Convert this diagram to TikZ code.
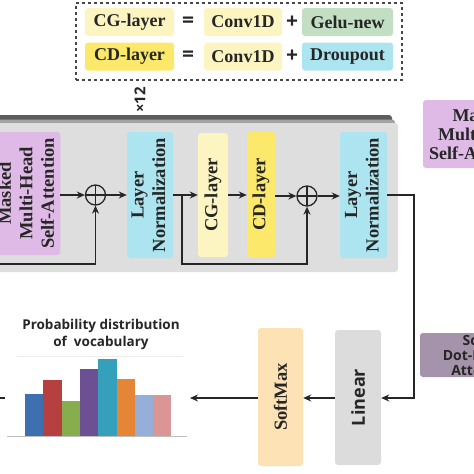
\documentclass[tikz,border=0pt]{standalone}
\usepackage{fontspec}
\setmainfont{Liberation Serif}
\newfontfamily\sansf{Open Sans}
\usetikzlibrary{arrows.meta}
\definecolor{ink}{HTML}{262626}
\definecolor{pyel}{HTML}{FCF5C2}
\definecolor{dyel}{HTML}{FCE86A}
\definecolor{pgreen}{HTML}{C3DFC3}
\definecolor{pcyan}{HTML}{ACE5EF}
\definecolor{ppurp}{HTML}{DFBAE6}
\definecolor{dpurp}{HTML}{A493AA}
\definecolor{panelc}{HTML}{DEDEDE}
\definecolor{midg}{HTML}{A2A2A2}
\definecolor{darkg}{HTML}{5E5E5E}
\definecolor{porange}{HTML}{FDE2B6}
\definecolor{linc}{HTML}{DCDCDC}
\definecolor{bA}{HTML}{3E6FB1}
\definecolor{bB}{HTML}{B6403F}
\definecolor{bC}{HTML}{87AD4C}
\definecolor{bD}{HTML}{6D4F93}
\definecolor{bE}{HTML}{34A0BC}
\definecolor{bF}{HTML}{E58636}
\definecolor{bG}{HTML}{95AFD8}
\definecolor{bH}{HTML}{D99695}
\newcommand{\vtext}[1]{\rotatebox{90}{\begin{tabular}{@{}c@{}}#1\end{tabular}}}
\tikzset{
  box/.style={rounded corners=3pt, inner sep=0pt, text=ink,
    font=\fontsize{18.5}{21.5}\selectfont\bfseries},
  legbox/.style={box, minimum height=28pt, font=\fontsize{18}{21}\selectfont\bfseries},
  conn/.style={draw=ink, line width=1.8pt, -{Stealth[length=8pt,width=7pt]}},
  plainconn/.style={draw=ink, line width=1.8pt},
  oplus/.style={circle, draw=ink, line width=1.3pt, minimum size=20pt, inner sep=0pt,
    path picture={\draw[ink, line width=1.3pt] (path picture bounding box.north) -- (path picture bounding box.south)
      (path picture bounding box.west) -- (path picture bounding box.east);}},
  sym/.style={text=ink, font=\sansf\fontsize{21}{21}\selectfont\bfseries},
}
\begin{document}
\begin{tikzpicture}[x=1pt,y=-1pt]
\useasboundingbox (0,0) rectangle (474,474);
\begin{scope}
\clip (0,0) rectangle (474,474);
% legend
\node[draw=ink!85, dashed, line width=1.1pt, minimum width=326pt, minimum height=77pt, inner sep=0pt] (legend) at (239,41.5) {};
\node[legbox, fill=pyel, minimum width=89pt] (cg) at (129.5,22) {CG-layer};
\node[sym] (eq1) at (188,22) {=};
\node[legbox, fill=pyel, minimum width=78pt] (cv1) at (243,22) {Conv1D};
\node[sym] (pl1) at (292,22) {+};
\node[legbox, fill=pgreen, minimum width=91pt] (gelu) at (347.5,22) {Gelu-new};
\node[legbox, fill=dyel, minimum width=89pt] (cd) at (129.5,56.5) {CD-layer};
\node[sym] (eq2) at (188,56.5) {=};
\node[legbox, fill=pyel, minimum width=78pt] (cv2) at (243,56.5) {Conv1D};
\node[sym] (pl2) at (292,56.5) {+};
\node[legbox, fill=pcyan, minimum width=91pt] (drop) at (347.5,56.5) {Droupout};
\node[text=ink, font=\sansf\fontsize{15}{15}\selectfont\bfseries, rotate=90] (x12) at (140,100) {×12};
% stacked panels
\fill[darkg, rounded corners=3pt] (-10,115) rectangle (392,266);
\fill[midg, rounded corners=3pt] (-10,119.5) rectangle (395,269);
\fill[panelc, rounded corners=3pt] (-10,123) rectangle (398,272);
% blocks
\node[box, fill=ppurp, minimum width=72pt, minimum height=123pt] (mhsa) at (24,193.5)
  {\hspace*{8pt}\vtext{Masked\\Multi-Head\\Self-Attention}};
\node[oplus] (add1) at (95.5,195) {};
\node[box, fill=pcyan, minimum width=46pt, minimum height=126pt] (ln1) at (150,195) {\vtext{Layer\\Normalization}};
\node[box, fill=pyel, minimum width=30pt, minimum height=124pt] (cgl) at (213,195) {\vtext{CG-layer}};
\node[box, fill=dyel, minimum width=28pt, minimum height=125pt] (cdl) at (261,194.5) {\vtext{CD-layer}};
\node[oplus] (add2) at (307,196) {};
\node[box, fill=pcyan, minimum width=47pt, minimum height=126pt] (ln2) at (363.5,195) {\vtext{Layer\\Normalization}};
% right cropped boxes
\node[box, fill=ppurp, minimum width=120pt, minimum height=68pt, align=center,
  font=\fontsize{18}{19}\selectfont\bfseries] (mhsa2) at (483,134)
  {Masked\\Multi-Head\\Self-Attention};
\node[box, fill=dpurp, minimum width=130pt, minimum height=44pt, align=center,
  font=\sansf\fontsize{14}{15}\selectfont\bfseries, text=ink] (sdpa) at (485,355)
  {Scaled\\Dot-Product\\Attention};
% bottom
\node[box, fill=linc, minimum width=46pt, minimum height=135pt, font=\sansf\fontsize{18}{21}\selectfont\bfseries] (lin) at (358,397.5) {\rotatebox{90}{Linear}};
\node[box, fill=porange, minimum width=45pt, minimum height=138pt] (soft) at (280.5,397) {\rotatebox{90}{SoftMax}};
% connectors
\coordinate (skipstart) at (0,264);
\coordinate (br1) at (182,195);
\coordinate (out) at (190,398);
\coordinate (leftend) at (0,398);
\coordinate (leftstub) at (5,398);
\draw[conn] (mhsa.east |- add1) -- (add1.west);
\draw[conn] (add1.east) -- (ln1.west |- add1);
\draw[conn] (skipstart) -| (add1.south);
\draw[conn] (ln1.east |- br1) -- (cgl.west |- br1);
\draw[conn] (br1) |- (add2.south |- skipstart) -- (add2.south);
\draw[conn] (cgl.east |- br1) -- (cdl.west |- br1);
\draw[conn] (cdl.east |- add2) -- (add2.west);
\draw[conn] (add2.east) -- (ln2.west |- add2);
\draw[conn] (ln2.east |- br1) -- ++(27,0) |- (lin.east |- out);
\draw[conn] (lin.west |- out) -- (soft.east |- out);
\draw[conn] (soft.west |- out) -- (out);
\draw[plainconn] (leftend) -- (leftstub);
% chart
\node[text=ink, font=\sansf\fontsize{13.5}{17}\selectfont\bfseries, align=center] (ptitle) at (101,334)
  {Probability distribution\\of\ \ vocabulary};
\draw[black!7, line width=0.6pt] (17,356) -- (183,356);
\fill[bA] (25,394) rectangle (43.3,436);
\fill[bB] (43.3,380) rectangle (61.7,436);
\fill[bC] (61.7,400.7) rectangle (80,436);
\fill[bD] (80,368.7) rectangle (98.3,436);
\fill[bE] (98.3,359.3) rectangle (116.7,436);
\fill[bF] (116.7,379) rectangle (135,436);
\fill[bG] (135,394.7) rectangle (153.3,436);
\fill[bH] (153.3,394.7) rectangle (170.7,436);
\draw[black!25, line width=1pt] (7,436.5) -- (187,436.5);
\end{scope}
\end{tikzpicture}
\end{document}
